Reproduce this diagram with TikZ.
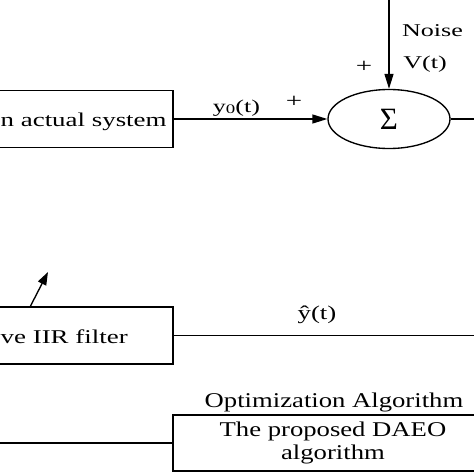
\documentclass[tikz,border=0pt]{standalone}
\usepackage{fontspec}
\setmainfont{Liberation Serif}
\newfontfamily\fA{Liberation Serif}[FakeStretch=1.38]
\newfontfamily\fB{Liberation Serif}[FakeStretch=1.45]
\newfontfamily\fC{Liberation Serif}[FakeStretch=1.27]
\usetikzlibrary{arrows.meta,shapes.geometric}
\tikzset{
  blk/.style={draw, line width=1.35pt, inner sep=0pt, minimum width=203pt, minimum height=57pt},
  sumnode/.style={draw, ellipse, line width=1.35pt, inner sep=0pt, minimum width=122pt, minimum height=59pt, font=\fontsize{31}{31}\selectfont},
  wire/.style={line width=1.35pt},
  arr/.style={line width=1.35pt, -{Triangle[length=15pt,width=9pt]}},
  lblA/.style={inner sep=0pt, anchor=base, font=\fA\fontsize{19.5}{22}\selectfont},
  lblB/.style={inner sep=0pt, anchor=base, font=\fB\fontsize{18}{20}\selectfont},
  lblC/.style={inner sep=0pt, anchor=base, font=\fC\fontsize{21}{23}\selectfont},
}
\begin{document}
\begin{tikzpicture}[x=1pt,y=-1pt]
\useasboundingbox (0,0) rectangle (474,474);
% top branch
\node[blk] (sys) at (71.5,119) {};
\node[lblA, anchor=base west] (systxt) at (0.5,126) {n actual system};
\node[sumnode] (sum) at (389,119) {Σ};
\draw[arr] (sys.east) -- (sum.west);
\coordinate (ntop) at (389,-5);
\draw[arr] (ntop) -- (sum.north);
\coordinate (sumout) at (480,119);
\draw[wire] (sum.east) -- (sumout);
\node[lblB] (y0) at (236.5,112) {y\raisebox{-0.1em}{\fontsize{13}{13}\selectfont 0}(t)};
\node[lblB, anchor=center] (p1) at (294,102) {\fontsize{20}{20}\selectfont +};
\node[lblB, anchor=center] (p2) at (364,67) {\fontsize{20}{20}\selectfont +};
\node[lblB] (noise) at (432.5,36) {Noise};
\node[lblB] (vt) at (425,68) {V(t)};
% filter branch
\node[blk] (filt) at (71.5,335.5) {};
\node[lblA, anchor=base west] (filttxt) at (0.5,343) {ve IIR filter};
\coordinate (adfoot) at (30,307);
\coordinate (adtip) at (48,272);
\draw[line width=1.35pt, -{Triangle[length=13pt,width=9pt]}] (adfoot) -- (adtip);
\coordinate (filtout) at (480,335.5);
\draw[wire] (filt.east) -- (filtout);
\node[lblA] (yhat) at (317,319) {ŷ(t)};
% optimization
\node[blk, minimum width=320pt, minimum height=56pt, align=center, font=\fC\fontsize{21}{23}\selectfont] (opt) at (333,443) {The proposed DAEO\\algorithm};
\node[lblC] (optlbl) at (334,407) {Optimization Algorithm};
\coordinate (optin) at (-5,443);
\draw[wire] (optin) -- (opt.west);
\end{tikzpicture}
\end{document}
